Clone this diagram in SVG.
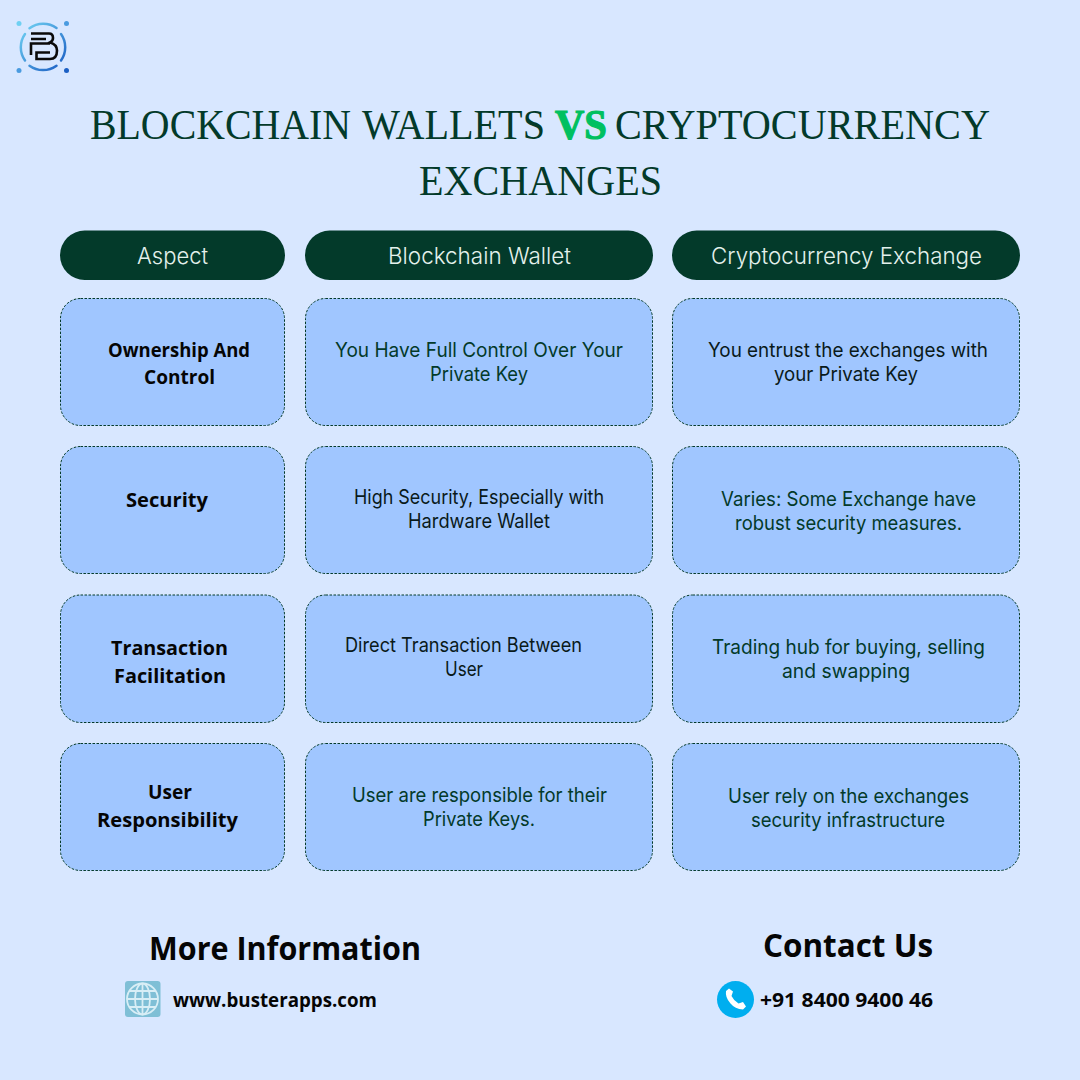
<svg xmlns="http://www.w3.org/2000/svg" width="1080" height="1080" viewBox="0 0 1080 1080">
<defs>
<linearGradient id="ring" gradientUnits="userSpaceOnUse" x1="22" y1="26" x2="64" y2="68"><stop offset="0" stop-color="#6FD0F2"/><stop offset="1" stop-color="#1B5FC4"/></linearGradient>
</defs>
<style>
.title{font-family:"Liberation Serif",serif;font-size:41.500px;fill:#033A2A}
.vs{font-family:"Liberation Serif",serif;font-size:41.500px;font-weight:700;fill:#00C060;stroke:#00C060;stroke-width:1.200}
.head{fill:#033A2A}
.headt{font-family:"Inter","Liberation Sans",sans-serif;font-weight:300;font-size:23px;fill:#E4F1EC}
.card{fill:#A0C6FF;stroke:#033A2A;stroke-width:1;stroke-dasharray:2.5 1.5}
.b{font-family:"Open Sans",sans-serif;font-weight:700;font-size:20px;fill:#050505}
.g{font-family:"Inter",sans-serif;font-size:20px;fill:#033A2A}
.k{font-family:"Inter",sans-serif;font-size:20px;fill:#0A1A1A}
.h2{font-family:"Open Sans",sans-serif;font-weight:700;font-size:32px;fill:#050505}
.f{font-family:"Open Sans",sans-serif;font-weight:700;font-size:20px;fill:#050505}
</style>
<rect width="1080" height="1080" fill="#D8E7FF"/>
<g id="logo">
<circle cx="19" cy="23.500" r="2.500" fill="#6FD0F2"/><circle cx="66.500" cy="23.500" r="2.500" fill="#4A9BE0"/>
<circle cx="19" cy="70.500" r="2.500" fill="#4A9BE0"/><circle cx="66.500" cy="70.500" r="2.500" fill="#1B5FC4"/>
<g fill="none" stroke="url(#ring)" stroke-width="2.500" stroke-linecap="round">
<path d="M25 60.500A23 23 0 0 1 25 34"/><path d="M29.500 28.300A23 23 0 0 1 56.500 28"/><path d="M61 34A23 23 0 0 1 61 60.500"/><path d="M29.500 65.700A23 23 0 0 0 56.500 65.700"/>
</g>
<path d="M31 33.500H49Q53 33.500 53 38Q53 41 50 42.500Q57 44.500 57 50.500Q57 59 50 59H36.500V52.500H50M31 55V43.500H50M31 39H46" fill="none" stroke="#0A0A0A" stroke-width="2.600"/>
</g>
<g id="title">
<text class="title" x="90" y="138.500" textLength="261" lengthAdjust="spacingAndGlyphs">BLOCKCHAIN</text>
<text class="title" x="362" y="138.500" textLength="183" lengthAdjust="spacingAndGlyphs">WALLETS</text>
<text class="vs" x="555" y="138.500" textLength="52" lengthAdjust="spacingAndGlyphs">VS</text>
<text class="title" x="615" y="138.500" textLength="375" lengthAdjust="spacingAndGlyphs">CRYPTOCURRENCY</text>
<text class="title" x="419" y="194.500" textLength="243" lengthAdjust="spacingAndGlyphs">EXCHANGES</text>
</g>
<g id="connectors"></g>
<g id="head-aspect"><rect class="head" x="60" y="230.500" width="225" height="49.500" rx="24.700"/><text class="headt" x="137" y="264" textLength="71" lengthAdjust="spacingAndGlyphs">Aspect</text></g>
<g id="head-wallet"><rect class="head" x="305" y="230.500" width="348" height="49.500" rx="24.700"/><text class="headt" x="388" y="264" textLength="183" lengthAdjust="spacingAndGlyphs">Blockchain Wallet</text></g>
<g id="head-exchange"><rect class="head" x="672" y="230.500" width="348" height="49.500" rx="24.700"/><text class="headt" x="711" y="264" textLength="271" lengthAdjust="spacingAndGlyphs">Cryptocurrency Exchange</text></g>

<g id="r1a"><rect class="card" x="60.500" y="298.500" width="224" height="127" rx="20"/><text class="b" x="108" y="357" textLength="142" lengthAdjust="spacingAndGlyphs">Ownership And</text><text class="b" x="144" y="384" textLength="71" lengthAdjust="spacingAndGlyphs">Control</text></g>
<g id="r1b"><rect class="card" x="305.500" y="298.500" width="347" height="127" rx="20"/><text class="g" x="335" y="357" textLength="288" lengthAdjust="spacingAndGlyphs">You Have Full Control Over Your</text><text class="g" x="430" y="381" textLength="98" lengthAdjust="spacingAndGlyphs">Private Key</text></g>
<g id="r1c"><rect class="card" x="672.500" y="298.500" width="347" height="127" rx="20"/><text class="k" x="708" y="357" textLength="280" lengthAdjust="spacingAndGlyphs">You entrust the exchanges with</text><text class="k" x="774" y="381" textLength="144" lengthAdjust="spacingAndGlyphs">your Private Key</text></g>

<g id="r2a"><rect class="card" x="60.500" y="446.500" width="224" height="127" rx="20"/><text class="b" x="126" y="507" textLength="82" lengthAdjust="spacingAndGlyphs">Security</text></g>
<g id="r2b"><rect class="card" x="305.500" y="446.500" width="347" height="127" rx="20"/><text class="k" x="354" y="504" textLength="250" lengthAdjust="spacingAndGlyphs">High Security, Especially with</text><text class="k" x="408" y="528" textLength="142" lengthAdjust="spacingAndGlyphs">Hardware Wallet</text></g>
<g id="r2c"><rect class="card" x="672.500" y="446.500" width="347" height="127" rx="20"/><text class="g" x="721" y="506" textLength="255" lengthAdjust="spacingAndGlyphs">Varies: Some Exchange have</text><text class="g" x="735" y="530" textLength="227" lengthAdjust="spacingAndGlyphs">robust security measures.</text></g>

<g id="r3a"><rect class="card" x="60.500" y="595" width="224" height="127.500" rx="20"/><text class="b" x="111" y="655" textLength="117" lengthAdjust="spacingAndGlyphs">Transaction</text><text class="b" x="114" y="683" textLength="112" lengthAdjust="spacingAndGlyphs">Facilitation</text></g>
<g id="r3b"><rect class="card" x="305.500" y="595" width="347" height="127.500" rx="20"/><text class="k" x="345" y="652" textLength="237" lengthAdjust="spacingAndGlyphs">Direct Transaction Between</text><text class="k" x="445" y="676" textLength="38" lengthAdjust="spacingAndGlyphs">User</text></g>
<g id="r3c"><rect class="card" x="672.500" y="595" width="347" height="127.500" rx="20"/><text class="g" x="712" y="654" textLength="273" lengthAdjust="spacingAndGlyphs">Trading hub for buying, selling</text><text class="g" x="782" y="678" textLength="128" lengthAdjust="spacingAndGlyphs">and swapping</text></g>

<g id="r4a"><rect class="card" x="60.500" y="743.500" width="224" height="127" rx="20"/><text class="b" x="148" y="799" textLength="44" lengthAdjust="spacingAndGlyphs">User</text><text class="b" x="97" y="827" textLength="141" lengthAdjust="spacingAndGlyphs">Responsibility</text></g>
<g id="r4b"><rect class="card" x="305.500" y="743.500" width="347" height="127" rx="20"/><text class="g" x="352" y="802" textLength="255" lengthAdjust="spacingAndGlyphs">User are responsible for their</text><text class="g" x="423" y="826" textLength="112" lengthAdjust="spacingAndGlyphs">Private Keys.</text></g>
<g id="r4c"><rect class="card" x="672.500" y="743.500" width="347" height="127" rx="20"/><text class="g" x="728" y="803" textLength="241" lengthAdjust="spacingAndGlyphs">User rely on the exchanges</text><text class="g" x="751" y="827" textLength="194" lengthAdjust="spacingAndGlyphs">security infrastructure</text></g>

<g id="more-info">
<text class="h2" x="149" y="960" textLength="272" lengthAdjust="spacingAndGlyphs">More Information</text>
<rect x="125" y="981" width="35.500" height="36" rx="3" fill="#7FBFD6"/>
<g fill="none" stroke="#D8EEF6" stroke-width="1.800"><circle cx="142.500" cy="999" r="15.500"/><ellipse cx="142.500" cy="999" rx="7.500" ry="15.500"/><path d="M142.500 983.500V1014.500M127 999H158M129 991H156M129 1007H156"/></g>
<text class="f" x="173" y="1007" textLength="204" lengthAdjust="spacingAndGlyphs">www.busterapps.com</text>
</g>
<g id="contact">
<text class="h2" x="763" y="957" textLength="170" lengthAdjust="spacingAndGlyphs">Contact Us</text>
<circle cx="735.500" cy="999.500" r="18.500" fill="#00AEEF"/>
<path d="M729 988.500L733 991.500L731.500 996Q734 1001 738.500 1003.500L743 1002L746 1006.500L743 1009.500Q735 1009 730.500 1003.500Q725 997.500 726 991Z" fill="#fff"/>
<text class="f" x="760" y="1007" textLength="173" lengthAdjust="spacingAndGlyphs">+91 8400 9400 46</text>
</g>
</svg>
